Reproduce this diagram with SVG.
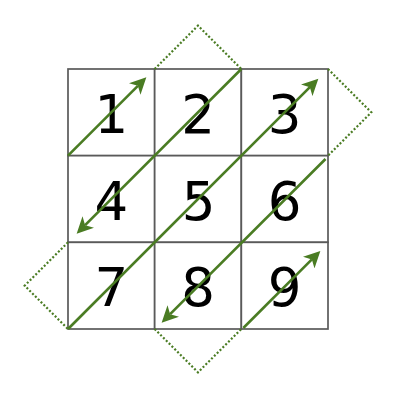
<svg xmlns="http://www.w3.org/2000/svg" width="400" height="400" viewBox="0 0 400 400">
  <style>
    .cell { fill: #ffffff; stroke: #5a5a5a; stroke-width: 1.7; }
    .num { font-family: "DejaVu Sans", sans-serif; font-size: 53px; fill: #000000; text-anchor: middle; }
    .conn { fill: none; stroke: #4a7c23; stroke-width: 2.6; }
    .dot { fill: none; stroke: #4a7c23; stroke-width: 2.2; stroke-dasharray: 2 2; }
  </style>
  <defs>
    <marker id="arrow" markerUnits="userSpaceOnUse" viewBox="0 0 17 17" markerWidth="17" markerHeight="17" refX="4.5" refY="8.5" orient="auto">
      <path d="M0,0.3 L16.5,8.5 L0,16.7 L4.5,8.5 Z" fill="#4a7c23"/>
    </marker>
  </defs>
  <rect width="400" height="400" fill="#ffffff"/>
  <g id="n1"><rect class="cell" x="68" y="69" width="86.67" height="86.67"/><text class="num" x="111.3" y="133">1</text></g>
  <g id="n2"><rect class="cell" x="154.67" y="69" width="86.67" height="86.67"/><text class="num" x="198" y="133">2</text></g>
  <g id="n3"><rect class="cell" x="241.33" y="69" width="86.67" height="86.67"/><text class="num" x="284.7" y="133">3</text></g>
  <g id="n4"><rect class="cell" x="68" y="155.67" width="86.67" height="86.67"/><text class="num" x="111.3" y="219.8">4</text></g>
  <g id="n5"><rect class="cell" x="154.67" y="155.67" width="86.67" height="86.67"/><text class="num" x="198.5" y="219.8">5</text></g>
  <g id="n6"><rect class="cell" x="241.33" y="155.67" width="86.67" height="86.67"/><text class="num" x="284.7" y="219.8">6</text></g>
  <g id="n7"><rect class="cell" x="68" y="242.33" width="86.67" height="86.67"/><text class="num" x="111.3" y="306">7</text></g>
  <g id="n8"><rect class="cell" x="154.67" y="242.33" width="86.67" height="86.67"/><text class="num" x="198" y="306">8</text></g>
  <g id="n9"><rect class="cell" x="241.33" y="242.33" width="86.67" height="86.67"/><text class="num" x="284.7" y="306">9</text></g>
  <g id="connectors">
    <path class="dot" d="M154.67,69 L198,25.67 L241.33,69"/>
    <path class="dot" d="M328,69 L371.33,112.33 L328,155.67"/>
    <path class="dot" d="M68,242.33 L24.67,285.67 L68,329"/>
    <path class="dot" d="M154.67,329 L198,372.33 L241.33,329"/>
    <path class="conn" d="M68,155.67 L137.87,85.8" marker-end="url(#arrow)"/>
    <path class="conn" d="M241.33,69 L85.13,225.2" marker-end="url(#arrow)"/>
    <path class="conn" d="M68,329 L309.87,87.13" marker-end="url(#arrow)"/>
    <path class="conn" d="M325.5,159 L170.13,314.2" marker-end="url(#arrow)"/>
    <path class="conn" d="M243.3,328 L311.87,259.43" marker-end="url(#arrow)"/>
  </g>
</svg>
